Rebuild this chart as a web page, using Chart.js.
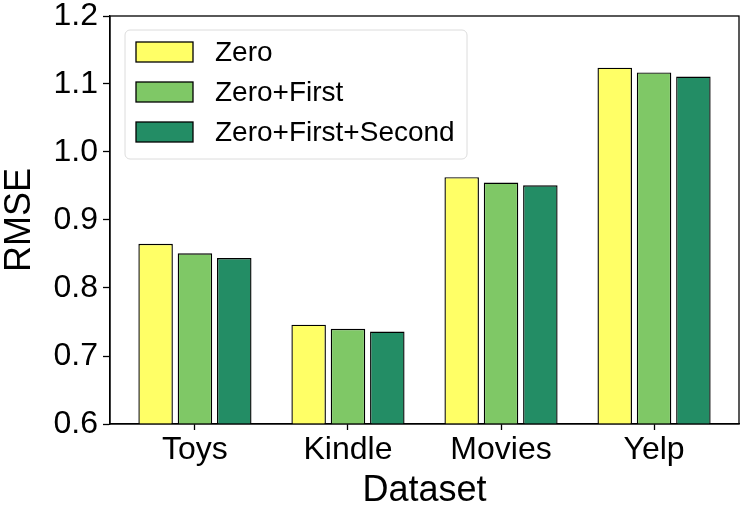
<!DOCTYPE html>
<html>
<head>
<meta charset="utf-8">
<script src="https://cdn.jsdelivr.net/npm/chart.js@4.4.1/dist/chart.umd.min.js"></script>
<style>
  body { margin: 0; background: #fff; }
  #wrap { width: 741px; height: 505px; }
</style>
</head>
<body>
<div id="wrap"><canvas id="chart" width="741" height="505"></canvas></div>
<script>
// values
let categories = ['Toys', 'Kindle', 'Movies', 'Yelp'];
let seriesNames = ['Zero', 'Zero+First', 'Zero+First+Second'];
let zeroVals = [0.865, 0.746, 0.963, 1.124];
let firstVals = [0.851, 0.740, 0.955, 1.117];
let secondVals = [0.844, 0.736, 0.951, 1.111];
let yTicks = [0.6, 0.7, 0.8, 0.9, 1.0, 1.1, 1.2];

let colors = ['#ffff66', '#7fc866', '#238d65'];
let fontFam = "'Liberation Sans', Arial, sans-serif";

let toPoints = function(vals) {
    return vals.map(function(v, i) { return { x: i, y: v }; });
};

// legend inside the plot + closed frame like matplotlib spines
let framePlugin = {
    id: 'frame',
    afterDraw: function(chart) {
        let ctx = chart.ctx;
        let a = chart.chartArea;
        ctx.save();
        ctx.strokeStyle = '#000';
        ctx.lineWidth = 1.3;
        ctx.strokeRect(a.left, a.top, a.right - a.left, a.bottom - a.top);

        // legend box
        let bx = 125, by = 30, bw = 342, bh = 129, r = 5;
        ctx.beginPath();
        ctx.moveTo(bx + r, by);
        ctx.arcTo(bx + bw, by, bx + bw, by + bh, r);
        ctx.arcTo(bx + bw, by + bh, bx, by + bh, r);
        ctx.arcTo(bx, by + bh, bx, by, r);
        ctx.arcTo(bx, by, bx + bw, by, r);
        ctx.closePath();
        ctx.fillStyle = 'rgba(255,255,255,0.8)';
        ctx.fill();
        ctx.strokeStyle = '#dcdcdc';
        ctx.lineWidth = 1;
        ctx.stroke();

        ctx.font = '28px ' + fontFam;
        ctx.textBaseline = 'middle';
        ctx.textAlign = 'left';
        chart.data.datasets.forEach(function(ds, i) {
            let cy = 52 + i * 40;
            ctx.fillStyle = ds.backgroundColor;
            ctx.fillRect(136, cy - 10, 57, 20);
            ctx.strokeStyle = '#000';
            ctx.lineWidth = 1.3;
            ctx.strokeRect(136, cy - 10, 57, 20);
            ctx.fillStyle = '#000';
            ctx.fillText(ds.label, 215, cy + 1);
        });
        ctx.restore();
    }
};

new Chart(document.getElementById('chart'), {
    type: 'bar',
    data: {
        datasets: [{
            label: seriesNames[0],
            data: toPoints(zeroVals),
            backgroundColor: colors[0]
        }, {
            label: seriesNames[1],
            data: toPoints(firstVals),
            backgroundColor: colors[1]
        }, {
            label: seriesNames[2],
            data: toPoints(secondVals),
            backgroundColor: colors[2]
        }]
    },
    options: {
        responsive: false,
        animation: false,
        layout: { padding: { top: 16, right: 2, left: 0, bottom: 0 } },
        datasets: {
            bar: {
                borderColor: '#000',
                borderWidth: 1.4,
                borderSkipped: false,
                categoryPercentage: 0.771,
                barPercentage: 0.877
            }
        },
        plugins: {
            legend: { display: false },
            tooltip: { enabled: false }
        },
        scales: {
            x: {
                type: 'linear',
                offset: false,
                min: -0.555,
                max: 3.555,
                afterBuildTicks: function(scale) {
                    scale.ticks = categories.map(function(c, i) { return { value: i }; });
                },
                afterFit: function(scale) { scale.height = 81; },
                ticks: {
                    autoSkip: false,
                    maxRotation: 0,
                    padding: 1,
                    color: '#000',
                    font: { family: fontFam, size: 32 },
                    callback: function(v) { return categories[v]; }
                },
                grid: { offset: false, drawOnChartArea: false, color: '#000', tickLength: 6, tickWidth: 1.3 },
                border: { color: '#000', width: 1.3 },
                title: {
                    display: true,
                    text: 'Dataset',
                    color: '#000',
                    padding: { top: 0, bottom: -8 },
                    font: { family: fontFam, size: 36 }
                }
            },
            y: {
                min: 0.6,
                max: 1.2,
                afterBuildTicks: function(scale) {
                    scale.ticks = yTicks.map(function(v) { return { value: v }; });
                },
                afterFit: function(scale) {
                    scale.width = 110;
                    scale.paddingTop = 0;
                    scale.paddingBottom = 0;
                },
                ticks: {
                    padding: 5,
                    color: '#000',
                    font: { family: fontFam, size: 32 },
                    callback: function(v) { return v.toFixed(1); }
                },
                grid: { drawOnChartArea: false, color: '#000', tickLength: 7, tickWidth: 1.3 },
                border: { color: '#000', width: 1.3 },
                title: {
                    display: true,
                    text: 'RMSE',
                    color: '#000',
                    padding: { top: -2, bottom: 0 },
                    font: { family: fontFam, size: 36 }
                }
            }
        }
    },
    plugins: [framePlugin]
});
</script>
</body>
</html>
